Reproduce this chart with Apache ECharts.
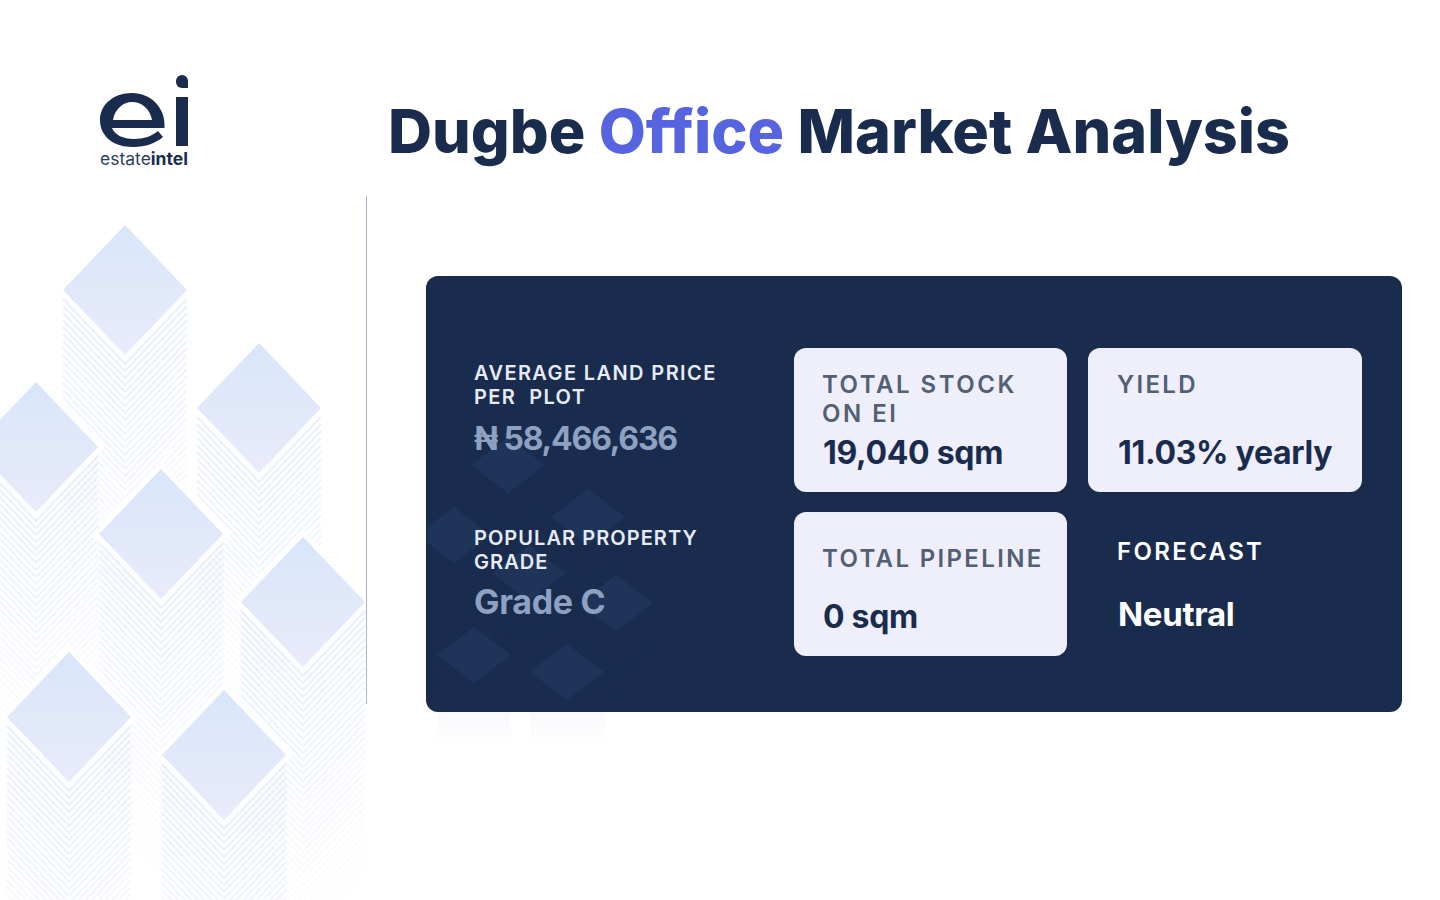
<!DOCTYPE html>
<html>
<head>
<meta charset="utf-8">
<style>
  html, body { margin: 0; padding: 0; background: #fff; }
  #main { width: 1440px; height: 900px; }
  #main text { white-space: pre; }
</style>
<script src="https://cdn.jsdelivr.net/npm/echarts@6/dist/echarts.min.js"></script>
</head>
<body>
<div id="main"></div>
<script>
// chart content
var titleParts = ['Dugbe ', 'Office', ' Market Analysis'];
var sideLabels = [['AVERAGE LAND PRICE', 'PER  PLOT'], ['POPULAR PROPERTY', 'GRADE']];
var sideValues = ['₦ 58,466,636', 'Grade C'];
var tileLabels = [['TOTAL STOCK', 'ON EI'], ['YIELD'], ['TOTAL PIPELINE'], ['FORECAST']];
var tileValues = ['19,040 sqm', '11.03% yearly', '0 sqm', 'Neutral'];

// colours
var navy = '#192c4d';
var accent = '#5764e0';
var fontName = 'Inter, "Noto Sans", sans-serif';

// background decoration: [center x, center y]
var bigDiamonds = [[125, 290], [259, 408], [36, 447], [161, 534], [303, 602], [69, 717], [224, 755]];
var smallDiamonds = [[508, 465], [588, 517], [454, 535], [529, 573], [616, 603], [474, 655], [567, 672]];

var els = [];

function diamondPoints(cx, cy, w, h, minX) {
  if (cx - w >= minX) return [[cx, cy - h], [cx + w, cy], [cx, cy + h], [cx - w, cy]];
  // cut the left tip at the card edge
  var k = h * (minX - (cx - w)) / w;
  return [[cx, cy - h], [cx + w, cy], [cx, cy + h], [minX, cy + k], [minX, cy - k]];
}

function addDiamond(cx, cy, w, h, fill, minX) {
  els.push({ type: 'polygon', shape: { points: diamondPoints(cx, cy, w, h, minX) }, style: { fill: fill }, silent: true });
}

function addHatch(cx, cy, w, h, color, startOpacity, fade, maxY) {
  for (var d = 9; d < fade; d += 7) {
    var y = cy + d;
    if (y + h > maxY + 70) break;
    els.push({
      type: 'polyline',
      shape: { points: [[cx - w, y], [cx, y + h], [cx + w, y]] },
      style: { stroke: color, lineWidth: 2, fill: null, opacity: startOpacity * (1 - d / fade) },
      silent: true
    });
  }
}

function addText(x, y, text, size, weight, color) {
  els.push({
    type: 'text', x: x, y: y, silent: true,
    style: { text: text, fontSize: size, fontWeight: weight, fontFamily: fontName, fill: color, verticalAlign: 'middle', align: 'left' }
  });
}

function addLines(x, y, lines, size, weight, color, step) {
  for (var i = 0; i < lines.length; i++) {
    addText(x, y + i * step, lines[i], size, weight, color);
  }
}

// big diamonds with their chevron tails
bigDiamonds.forEach(function(p) {
  var fade = p[1] > 700 ? 330 : 290;
  els.push({ type: 'polygon', shape: { points: diamondPoints(p[0], p[1], 69, 72, -200) }, style: { fill: '#fff' }, silent: true });
  addHatch(p[0], p[1], 62, 65, '#dbe5f7', 0.6, fade, 900);
  addDiamond(p[0], p[1], 62, 65, new echarts.graphic.LinearGradient(0, 0, 0, 1, [
    { offset: 0, color: '#d8e6f9' },
    { offset: 1, color: '#e9ebfb' }
  ]), -200);
});

// divider
els.push({ type: 'line', shape: { x1: 366.5, y1: 196, x2: 366.5, y2: 704 }, style: { stroke: '#aab3ca', lineWidth: 1 }, silent: true });

// faint traces of the card pattern outside the card
[[437, 74], [530, 75]].forEach(function(c) {
  els.push({
    type: 'rect', shape: { x: c[0], y: 712, width: c[1], height: 34 }, silent: true,
    style: { fill: new echarts.graphic.LinearGradient(0, 0, 0, 1, [{ offset: 0, color: '#f8f9fc' }, { offset: 1, color: '#ffffff' }]) }
  });
});

// main card
els.push({ type: 'rect', shape: { x: 426, y: 276, width: 976, height: 436, r: 12 }, style: { fill: navy }, silent: true });

smallDiamonds.forEach(function(p) {
  if (p[0] - 37 >= 427) addHatch(p[0], p[1], 37, 28, '#1e3559', 0.18, 70, 640);
  addDiamond(p[0], p[1], 37, 28, '#1e3559', 427);
});

// left column
addLines(474, 372.5, sideLabels[0], 20, 600, '#e6ebf7', 24);
addText(474, 438, sideValues[0], 32, 700, '#8fa1c0');
addLines(474, 537.5, sideLabels[1], 20, 600, '#e6ebf7', 24);
addText(474, 601.5, sideValues[1], 34, 700, '#8fa1c0');

// tiles
var tileBoxes = [[794, 348, 273, 144], [1088, 348, 274, 144], [794, 512, 273, 144]];
tileBoxes.forEach(function(b) {
  els.push({ type: 'rect', shape: { x: b[0], y: b[1], width: b[2], height: b[3], r: 12 }, style: { fill: '#eeeffb' }, silent: true });
});
addLines(822, 384, tileLabels[0], 24, 600, '#535f73', 29);
addText(823, 452, tileValues[0], 32, 700, navy);
addLines(1117, 384, tileLabels[1], 24, 600, '#535f73', 29);
addText(1118, 452, tileValues[1], 32, 700, navy);
addLines(822, 558, tileLabels[2], 24, 600, '#535f73', 29);
addText(823, 616, tileValues[2], 32, 700, navy);
addLines(1117, 551, tileLabels[3], 24, 600, '#ffffff', 29);
addText(1118, 614, tileValues[3], 33, 700, '#ffffff');

// logo
var LogoE = echarts.graphic.extendShape({
  shape: {},
  buildPath: function(ctx) {
    ctx.moveTo(164.5, 128);
    ctx.bezierCurveTo(166, 108, 151, 93, 132, 93);
    ctx.bezierCurveTo(113, 93, 100, 105, 100, 120);
    ctx.bezierCurveTo(100, 136, 113, 147, 133, 147);
    ctx.bezierCurveTo(146, 147, 156, 143, 163, 137);
    ctx.lineTo(158, 131);
    ctx.bezierCurveTo(152, 136, 144, 139, 134, 139);
    ctx.bezierCurveTo(123, 139, 115, 135, 112, 128);
    ctx.closePath();
    ctx.moveTo(113, 120);
    ctx.bezierCurveTo(115, 109, 123, 102, 132, 102);
    ctx.bezierCurveTo(142, 102, 150, 109, 152, 120);
    ctx.closePath();
  }
});
echarts.graphic.registerShape('logoE', LogoE);
els.push({ type: 'logoE', shape: {}, style: { fill: navy }, silent: true });
els.push({ type: 'rect', shape: { x: 176, y: 97, width: 12, height: 49 }, style: { fill: navy }, silent: true });
els.push({ type: 'rect', shape: { x: 176, y: 75, width: 12, height: 13, r: [6, 6, 0, 6] }, style: { fill: navy }, silent: true });
els.push({
  type: 'text', x: 100, y: 158, silent: true,
  style: {
    text: '{a|estate}{b|intel}', verticalAlign: 'middle',
    rich: {
      a: { fontSize: 17.5, fontWeight: 400, fontFamily: fontName, fill: '#2c3f5e' },
      b: { fontSize: 17.5, fontWeight: 700, fontFamily: fontName, fill: navy }
    }
  }
});

var myChart = echarts.init(document.getElementById('main'), null, { renderer: 'svg' });
myChart.setOption({
  animation: false,
  backgroundColor: '#fff',
  title: {
    text: '{a|' + titleParts[0] + '}{b|' + titleParts[1] + '}{a|' + titleParts[2] + '}',
    left: 388, top: 100, padding: 0,
    textStyle: {
      rich: {
        a: { fontSize: 61, fontWeight: 800, fontFamily: fontName, color: navy },
        b: { fontSize: 61, fontWeight: 800, fontFamily: fontName, color: accent }
      }
    }
  },
  graphic: { elements: els }
});

// zrender text has no tracking option, so set it on the svg text nodes
var tracking = {};
sideLabels[0].forEach(function(t) { tracking[t] = '1.4px'; });
sideLabels[1].forEach(function(t) { tracking[t] = '1.05px'; });
tileLabels[0].forEach(function(t) { tracking[t] = '2.5px'; });
tileLabels[1].concat(tileLabels[2], tileLabels[3]).forEach(function(t) { tracking[t] = '2.35px'; });
tracking[sideValues[0]] = '-1.2px';
tracking[sideValues[1]] = '-0.3px';
tileValues.forEach(function(t) { tracking[t] = '-0.3px'; });
document.querySelectorAll('#main text').forEach(function(n) {
  if (tracking[n.textContent]) n.style.letterSpacing = tracking[n.textContent];
});
</script>
</body>
</html>
